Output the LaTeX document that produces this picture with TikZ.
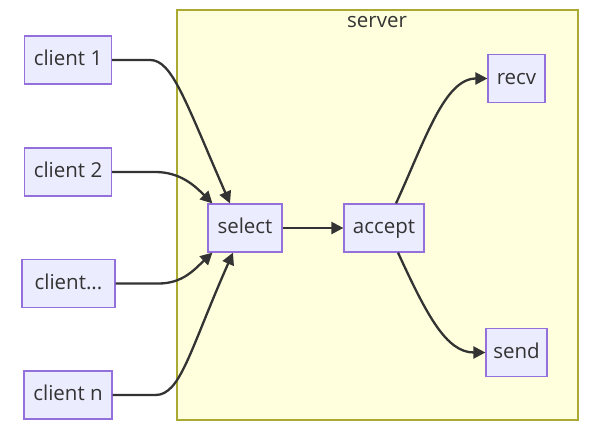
\documentclass[tikz,border=0pt]{standalone}
\usepackage{fontspec}
\setmainfont{Open Sans}
\usetikzlibrary{arrows.meta}
\definecolor{nodefill}{HTML}{ECECFF}
\definecolor{nodeline}{HTML}{9370DB}
\definecolor{clusterfill}{HTML}{FFFFDE}
\definecolor{clusterline}{HTML}{AAAA33}
\definecolor{edgecol}{HTML}{333333}
\begin{document}
\begin{tikzpicture}[x=1pt,y=-1pt,
  lbl/.style={text=edgecol,font=\fontsize{20.5}{24}\selectfont},
  box/.style={lbl,draw=nodeline,fill=nodefill,line width=1.2pt,minimum height=48pt,inner sep=0pt,text height=15pt,text depth=4pt},
  edge/.style={draw=edgecol,line width=2.3pt,-{Triangle[length=12pt,width=12pt]}},
  cluster/.style={draw=clusterline,fill=clusterfill,line width=1.1pt}]
\useasboundingbox (0,0) rectangle (600,431);
\path[cluster] (177,10) rectangle (578,420);
\node[lbl] (srv) at (377,22) {server};
\node[box,minimum width=87pt] (c1) at (68,60) {client 1};
\node[box,minimum width=87pt] (c2) at (68,172) {client 2};
\node[box,minimum width=93pt] (c3) at (68.5,283.5) {client...};
\node[box,minimum width=88pt] (cn) at (68,395) {client n};
\node[box,minimum width=74pt] (sel) at (245,228) {select};
\node[box,minimum width=80pt] (acc) at (384,228) {accept};
\node[box,minimum width=57pt] (recv) at (516.5,78.5) {recv};
\node[box,minimum width=61pt] (send) at (516.5,352.5) {send};
\draw[edge] (c1.east) -- ++(38,0) .. controls +(22,0) and +(-45,-103) .. ([xshift=-15pt]sel.north);
\draw[edge] (c2.east) -- ++(43,0) .. controls +(25,0) and +(-18,-18) .. ([xshift=5pt]sel.north west);
\draw[edge] (c3.east) -- ++(43,0) .. controls +(24,0) and +(-18,17) .. ([xshift=5pt]sel.south west);
\draw[edge] (cn.east) -- ++(43,0) .. controls +(25,0) and +(-43,97) .. ([xshift=-12pt]sel.south);
\draw[edge] (sel.east) -- (acc.west);
\draw[edge] ([xshift=12pt]acc.north) .. controls +(29,-63) and +(-43,0) .. (recv.west);
\draw[edge] ([xshift=14pt]acc.south) .. controls +(29,63) and +(-39,0) .. (send.west);
\end{tikzpicture}
\end{document}
